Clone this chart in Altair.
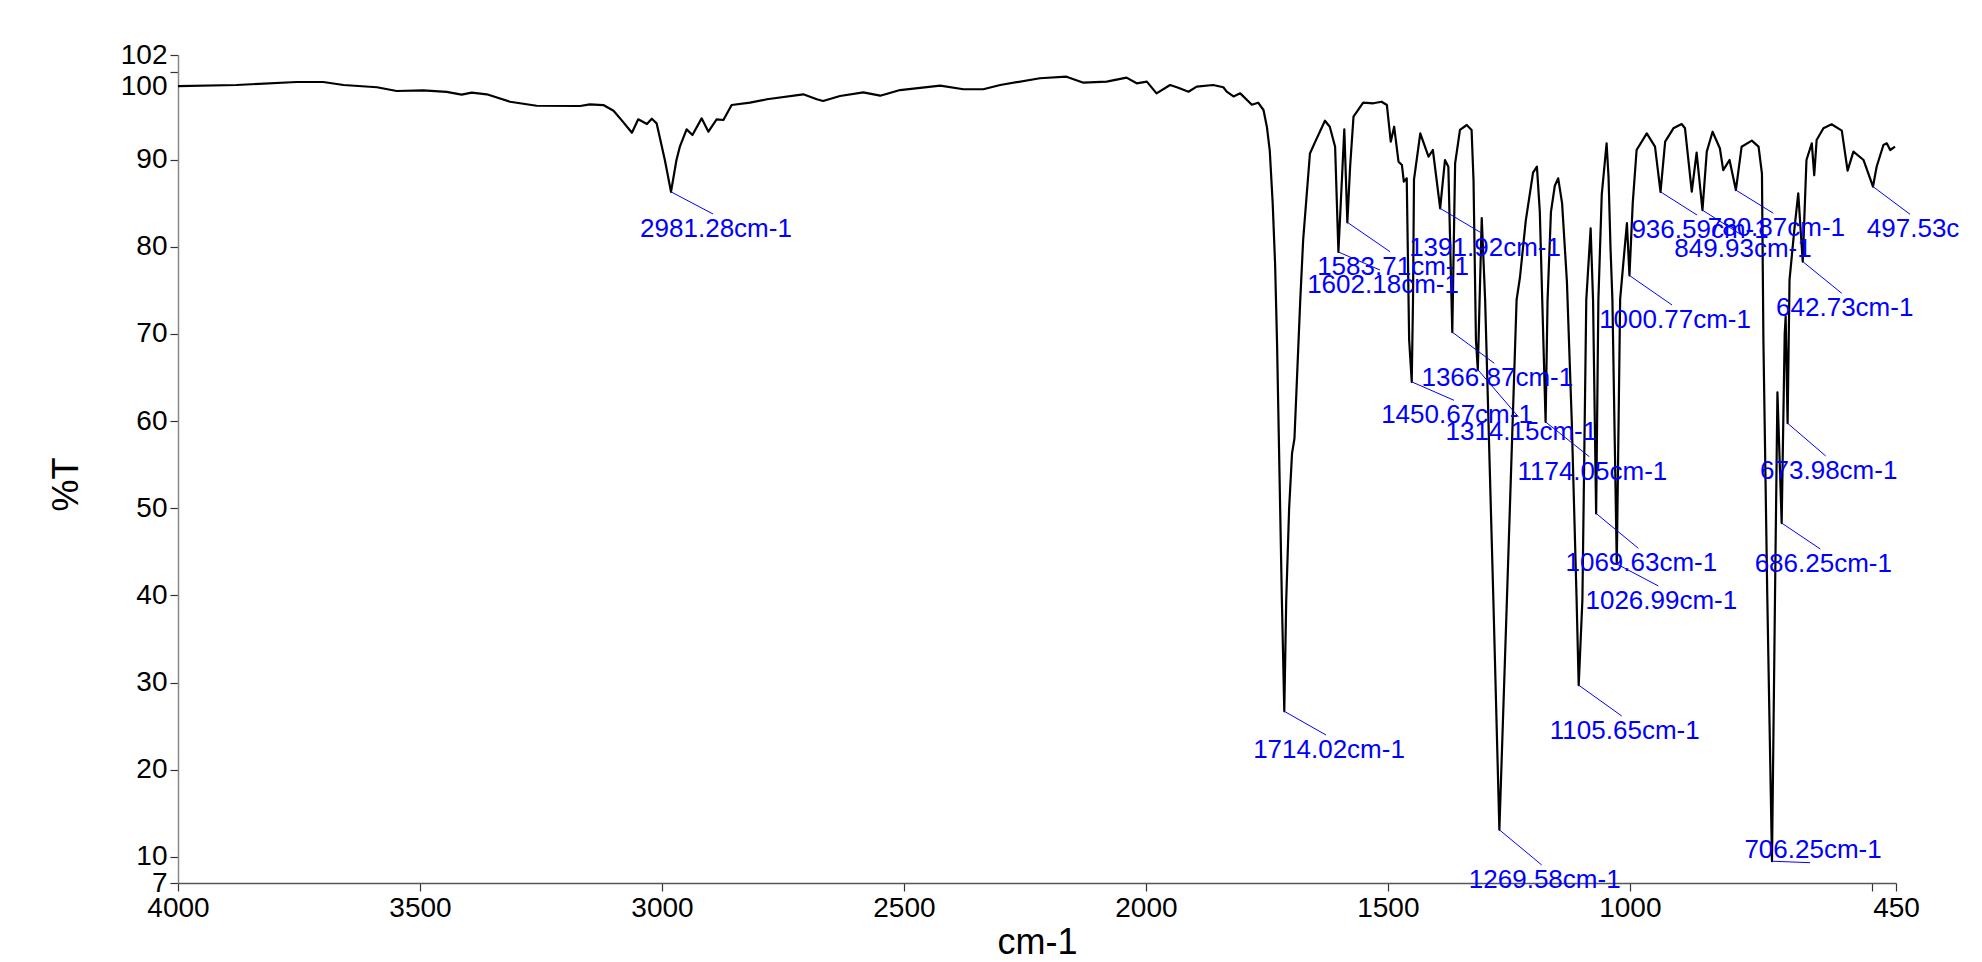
import altair as alt
import pandas as pd

# FTIR transmittance spectrum (wavenumber in cm-1, %T)
wavenumber = [
    4000, 3879, 3755, 3700, 3658, 3589, 3548, 3493, 3445, 3414, 3393, 3362,
    3314, 3259, 3169, 3149, 3121, 3100, 3083, 3062, 3049, 3031, 3021, 3011,
    2994, 2981.28, 2970, 2963, 2949, 2937, 2918, 2904, 2887, 2873, 2856,
    2818, 2783, 2708, 2680, 2667, 2632, 2584, 2549, 2508, 2425, 2377, 2336,
    2301, 2219, 2164, 2129, 2081, 2040, 2019, 1998, 1978, 1950, 1933, 1912,
    1895, 1861, 1840, 1833, 1819, 1805, 1781, 1768, 1757, 1750, 1744, 1738,
    1733, 1729, 1719, 1714.02, 1710, 1704, 1698, 1693, 1681, 1675, 1661,
    1650, 1630, 1620, 1609, 1602.18, 1595, 1590, 1583.71, 1578, 1571, 1551,
    1530, 1513, 1502, 1494, 1487, 1478, 1471, 1467, 1461, 1456, 1450.67,
    1448, 1446, 1433, 1416, 1407, 1391.92, 1382, 1375, 1366.87, 1361, 1351,
    1337, 1327, 1323, 1318, 1314.15, 1306, 1299, 1282, 1269.58, 1254, 1234,
    1227, 1215, 1200, 1192, 1186, 1181, 1174.05, 1170, 1163, 1155, 1148,
    1140, 1130, 1120, 1110, 1105.65, 1098, 1090, 1081, 1076, 1069.63, 1065,
    1058, 1048, 1044, 1040, 1036, 1026.99, 1020, 1012, 1006, 1000.77, 994,
    986, 965, 948, 936.59, 927, 910, 893, 886, 872, 862, 849.93, 841, 829,
    814, 807, 794, 780.87, 769, 748, 734, 727, 724, 716, 706.25, 700, 695,
    686.25, 680, 678, 673.98, 670, 660, 652, 642.73, 635, 624, 619, 614, 600,
    583, 562, 550, 538, 517, 497.53, 490, 476, 469, 462, 452,
]
transmittance = [
    98.44, 98.56, 98.9, 98.9, 98.56, 98.3, 97.87, 97.95, 97.76, 97.45, 97.68, 97.49,
    96.64, 96.18, 96.15, 96.34, 96.26, 95.61, 94.5, 93.08, 94.62, 94.08, 94.69, 94.16,
    89.95, 86.3, 89.95, 91.48, 93.47, 92.82, 94.73, 93.2, 94.62, 94.54, 96.26,
    96.53, 96.92, 97.49, 96.92, 96.72, 97.3, 97.72, 97.33, 97.98, 98.48, 98.07, 98.07,
    98.56, 99.33, 99.51, 98.82, 98.94, 99.4, 98.75, 98.94, 97.6, 98.56, 98.25, 97.79,
    98.37, 98.56, 98.3, 97.79, 97.25, 97.6, 96.3, 96.53, 95.69, 93.77, 91.0, 85.0,
    78.0, 69.0, 39.5, 26.7, 39.5, 50.0, 56.3, 58.0, 73.9, 80.8, 90.7,
    92.06, 94.46, 93.77, 91.48, 79.4, 87.66, 93.47, 82.8, 89.18, 94.92, 96.53,
    96.46, 96.64, 96.26, 92.06, 93.77, 89.76, 89.38, 87.47, 87.85, 69.3, 64.5,
    74.0, 87.7, 93.0, 90.33, 91.1, 84.4, 89.95, 89.18, 70.2, 89.57, 93.4,
    93.97, 93.4, 87.66, 69.3, 65.9, 83.3, 73.9, 39.5, 13.1, 39.5, 73.9,
    76.5, 83.0, 88.5, 89.2, 84.0, 73.9, 59.9, 73.9, 84.0, 87.0, 87.85,
    85.0, 76.0, 60.0, 39.5, 29.7, 39.5, 73.9, 82.1, 73.9, 49.4, 73.9,
    86.0, 91.87, 88.0, 80.0, 73.9, 43.6, 74.0, 79.0, 82.7, 76.7, 85.0,
    91.1, 93.0, 91.48, 86.3, 92.06, 93.59, 94.08, 93.59, 86.32, 90.79, 84.2, 90.91, 93.2,
    91.3, 88.8, 89.95, 86.5, 91.48, 92.17, 91.48, 88.4, 69.3, 40.0, 9.5, 40.0, 63.3,
    48.3, 70.0, 72.0, 59.75, 76.2, 82.0, 86.13, 78.3, 89.95, 91.87, 88.2, 92.25, 93.59,
    94.05, 93.32, 88.73, 90.91, 89.95, 86.9, 89.18, 91.67, 91.87, 91.1, 91.48,
]

# Peak annotations: text, peak position, end of the leader line, text side
peak_text = [
    "2981.28cm-1", "1714.02cm-1", "1269.58cm-1", "1105.65cm-1", "1069.63cm-1",
    "1026.99cm-1", "1174.05cm-1", "1314.15cm-1", "1450.67cm-1", "1366.87cm-1",
    "1391.92cm-1", "1583.71cm-1", "1602.18cm-1", "1000.77cm-1", "936.59cm-1",
    "849.93cm-1", "780.87cm-1", "497.53cm-1", "642.73cm-1", "673.98cm-1",
    "686.25cm-1", "706.25cm-1",
]
peak_wn = [
    2981.28, 1714.02, 1269.58, 1105.65, 1069.63, 1026.99, 1174.05, 1314.15,
    1450.67, 1366.87, 1391.92, 1583.71, 1602.18, 1000.77, 936.59, 849.93,
    780.87, 497.53, 642.73, 673.98, 686.25, 706.25,
]
peak_t = [
    86.3, 26.7, 13.1, 29.7, 49.4, 43.6, 59.9, 65.9, 64.5, 70.2, 84.4, 82.8,
    79.4, 76.7, 86.3, 84.2, 86.5, 86.9, 78.3, 59.75, 48.3, 9.5,
]
leader_wn = [
    2894.5, 1627.8, 1182.1, 1016.7, 982.4, 941.1, 1083.6, 1230.4, 1363.3,
    1280.0, 1305.4, 1495.5, 1516.2, 912.8, 861.1, 772.3, 703.4, 420.9,
    562.1, 595.2, 606.4, 627.6,
]
leader_t = [
    83.76, 23.98, 9.07, 26.16, 45.4, 41.08, 55.91, 60.5, 62.38, 66.63, 81.54,
    79.43, 77.33, 73.32, 83.64, 81.46, 83.84, 83.72, 74.66, 55.99, 45.32, 9.33,
]
label_side = ["below"] * 21 + ["above"]

x_ticks = [4000, 3500, 3000, 2500, 2000, 1500, 1000, 500, 450]
y_ticks = [7, 10, 20, 30, 40, 50, 60, 70, 80, 90, 100, 102]

spectrum = pd.DataFrame({"wn": wavenumber, "t": transmittance,
                         "i": list(range(len(wavenumber)))})
peaks = pd.DataFrame({"label": peak_text, "wn": peak_wn, "t": peak_t,
                      "ewn": leader_wn, "et": leader_t, "side": label_side})

FONT = "Liberation Sans"
BLUE = "#0000FF"

x_scale = alt.Scale(domain=[450, 4000], reverse=True, nice=False, zero=False)
y_scale = alt.Scale(domain=[7, 102], nice=False, zero=False)

x_axis = alt.Axis(
    values=x_ticks, grid=False, labelFlush=False, labelOverlap=False, format="d",
    labelExpr="datum.value == 500 ? '' : datum.label",
    labelFont=FONT, labelFontSize=28, labelColor="black", labelPadding=3,
    tickSize=8, tickColor="#333333", tickWidth=1.2,
    domainColor="#555555", domainWidth=1.5,
    titleFont=FONT, titleFontSize=36, titleFontWeight="normal", titleColor="black",
    titleBaseline="middle", titleY=59,
)
y_axis = alt.Axis(
    values=y_ticks, grid=False, labelOverlap=False, format="d",
    labelOffset={"condition": {"test": "datum.value === 100", "value": 14}, "value": 0},
    labelFont=FONT, labelFontSize=28, labelColor="black", labelPadding=3,
    tickSize=8, tickColor="#333333", tickWidth=1.2,
    domainColor="#888888", domainWidth=1.5,
    titleFont=FONT, titleFontSize=36, titleFontWeight="normal", titleColor="black",
    titleBaseline="middle", titleAngle=270, titleX=-112, titleY=429,
)


def xenc(field):
    return alt.X(field, type="quantitative", scale=x_scale, axis=x_axis, title="cm-1")


def yenc(field):
    return alt.Y(field, type="quantitative", scale=y_scale, axis=y_axis, title="%T")


line = alt.Chart(spectrum).mark_line(
    color="black", strokeWidth=2.2, strokeJoin="round"
).encode(x=xenc("wn"), y=yenc("t"), order="i:Q")

leaders = alt.Chart(peaks).mark_rule(color=BLUE, strokeWidth=1).encode(
    x=xenc("wn"), y=yenc("t"), x2="ewn:Q", y2="et:Q"
)

text_style = dict(font=FONT, fontSize=26, color=BLUE, align="center",
                  baseline="middle", dx=3)

labels_below = alt.Chart(peaks).transform_filter(
    "datum.side == 'below' && datum.ewn >= 450"
).mark_text(dy=15, **text_style).encode(x=xenc("ewn"), y=yenc("et"), text="label:N")

# labels running past the right end of the axis are cut at the frame edge
labels_edge = alt.Chart(peaks).transform_filter(
    "datum.side == 'below' && datum.ewn < 450"
).mark_text(dy=15, limit=104, ellipsis=" ", **text_style).encode(
    x=xenc("ewn"), y=yenc("et"), text="label:N")

labels_above = alt.Chart(peaks).transform_filter(
    "datum.side == 'above'"
).mark_text(dy=-13, **text_style).encode(x=xenc("ewn"), y=yenc("et"), text="label:N")

chart = alt.layer(line, leaders, labels_below, labels_edge, labels_above).properties(
    width=1718,
    height=828,
    autosize=alt.AutoSizeParams(type="none"),
    padding={"left": 178, "top": 55, "right": 86, "bottom": 79},
    background="white",
).configure_view(stroke=None)

chart.save("out.html", embed_options={"renderer": "svg", "actions": False})
